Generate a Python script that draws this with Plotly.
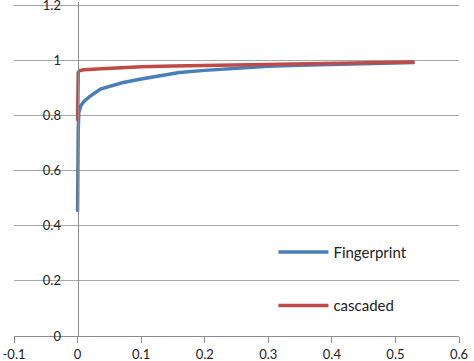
import plotly.graph_objects as go

# Fingerprint (blue) curve
fp_x = [0, 0, 0.001, 0.002, 0.005, 0.01, 0.02, 0.036, 0.05, 0.07, 0.1, 0.13, 0.16, 0.2, 0.25, 0.3, 0.35, 0.4, 0.45, 0.5, 0.53]
fp_y = [0.45, 0.6, 0.75, 0.81, 0.835, 0.85, 0.87, 0.895, 0.905, 0.918, 0.932, 0.945, 0.955, 0.963, 0.972, 0.978, 0.982, 0.985, 0.988, 0.99, 0.992]

# cascaded (red) curve
cas_x = [0, 0, 0.001, 0.003, 0.01, 0.03, 0.06, 0.1, 0.15, 0.2, 0.3, 0.4, 0.5, 0.53]
cas_y = [0.78, 0.9, 0.955, 0.962, 0.965, 0.968, 0.972, 0.976, 0.979, 0.981, 0.985, 0.989, 0.992, 0.993]

x_ticks = [-0.1, 0, 0.1, 0.2, 0.3, 0.4, 0.5, 0.6]
x_tick_labels = ["-0.1", "0", "0.1", "0.2", "0.3", "0.4", "0.5", "0.6"]
y_ticks = [0, 0.2, 0.4, 0.6, 0.8, 1.0, 1.2]
y_tick_labels = ["0", "0.2", "0.4", "0.6", "0.8", "1", "1.2"]

W, H = 474, 361
ml, mr, mt, mb = 14, 15, 2, 25
ypos = (0 - (-0.1)) / 0.7  # paper position of x=0

fig = go.Figure()
fig.add_trace(go.Scatter(x=fp_x, y=fp_y, mode="lines", name="Fingerprint",
                         line=dict(color="#4A7EBB", width=3.5), legendgroup="a"))
fig.add_trace(go.Scatter(x=cas_x, y=cas_y, mode="lines", name="cascaded",
                         line=dict(color="#BE4B48", width=3.5), legendgroup="b"))

font = dict(family="Lato, Open Sans, sans-serif", size=13, color="#222222")

fig.update_layout(
    width=W, height=H,
    margin=dict(l=ml, r=mr, t=mt, b=mb, autoexpand=False),
    paper_bgcolor="white", plot_bgcolor="white",
    font=font,
    showlegend=True,
    legend=dict(x=0.583, y=0.30, xanchor="left", yanchor="top", itemwidth=50,
                bgcolor="rgba(0,0,0,0)", font=dict(family="Lato, Open Sans, sans-serif", size=15, color="#222222"),
                traceorder="grouped", tracegroupgap=31),
    xaxis=dict(range=[-0.1, 0.6], tickvals=x_ticks, ticktext=x_tick_labels,
               showgrid=False, zeroline=False, showline=True, linecolor="#8C8C8C", linewidth=1,
               ticks="outside", ticklen=6, tickcolor="#8C8C8C", tickfont=font,
               ticklabeloverflow="allow", automargin=False, fixedrange=True),
    yaxis=dict(range=[0, 1.2109], tickvals=y_ticks, ticktext=y_tick_labels,
               anchor="free", position=ypos,
               showgrid=True, gridcolor="#A6A6A6", gridwidth=1, zeroline=False,
               showline=True, linecolor="#8C8C8C", linewidth=1,
               ticks="", tickfont=font, ticklabelstandoff=14, ticklabeloverflow="allow",
               automargin=False, fixedrange=True),
)

fig.write_html("out.html", config={"displayModeBar": False},
               post_script="document.body.style.margin='0';document.body.style.overflow='hidden';")
